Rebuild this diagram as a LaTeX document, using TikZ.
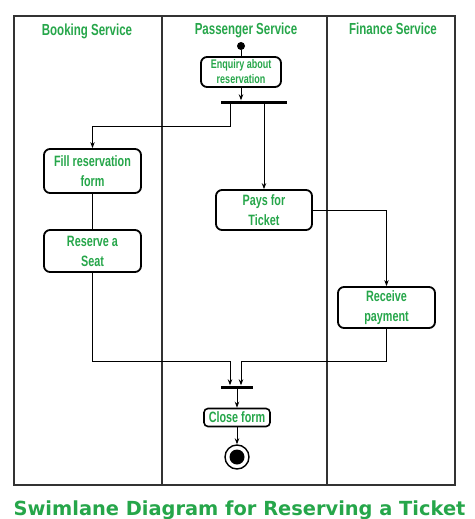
\documentclass[tikz,border=0pt]{standalone}
\usepackage{fontspec}
\usetikzlibrary{positioning,arrows.meta,shapes}
\newfontfamily\lanefont{Liberation Sans}[FakeStretch=0.72]
\newfontfamily\titlefont{DejaVu Sans}
\definecolor{lanegreen}{RGB}{38,166,74}
\tikzstyle{flow} = [line width=0.9pt,-{Stealth[length=6pt,width=4.5pt]}]
\tikzstyle{activity} = [draw, line width=1.8pt, rounded corners=6pt, inner sep=0pt, align=center, text=lanegreen, font=\lanefont\bfseries\fontsize{15}{20}\selectfont]
\tikzstyle{bar} = [fill=black, inner sep=0pt, minimum height=3pt]

\begin{document}
\begin{tikzpicture}[x=1pt,y=-1pt]
\useasboundingbox (0,0) rectangle (474,519);
\tikzstyle{heading} = [anchor=base, text=lanegreen, font=\lanefont\bfseries\fontsize{16}{19}\selectfont]

% lanes
\draw[line width=1.3pt, black!80] (14,16) rectangle (455,485);
\draw[line width=1.3pt, black!80] (162,16) -- (162,485);
\draw[line width=1.3pt, black!80] (327,16) -- (327,485);

\node[heading] (booking) at (87,36) {Booking Service};
\node[heading] (passenger) at (246,35) {Passenger Service};
\node[heading] (finance) at (393,35) {Finance Service};

% activities
\node[circle, fill=black, inner sep=0pt, minimum size=8pt] (start) at (241,46) {};
\node[activity, minimum width=80pt, minimum height=30pt, font=\lanefont\bfseries\fontsize{12.5}{15}\selectfont] (enquiry) at (241,72) {Enquiry about\\reservation};
\node[bar, minimum width=66pt] (fork) at (254,102) {};
\node[activity, minimum width=97pt, minimum height=44pt] (fill) at (92.5,171) {Fill reservation\\form};
\node[activity, minimum width=97pt, minimum height=42pt] (reserve) at (92.5,251) {Reserve a\\Seat};
\node[activity, minimum width=96pt, minimum height=40pt] (pays) at (264,210) {Pays for\\Ticket};
\node[activity, minimum width=97pt, minimum height=41pt] (receive) at (386.5,307.5) {Receive\\payment};
\node[bar, minimum width=32pt] (join) at (237,387) {};
\node[activity, minimum width=66pt, minimum height=18pt, line width=1.6pt, rounded corners=4pt] (close) at (237,417.5) {Close form};
\node[circle, draw, line width=1.4pt, minimum size=24pt, inner sep=0pt] (end) at (237,457) {};
\fill (end) circle (7.5);

% connectors
\draw[line width=0.9pt] (start) -- (enquiry);
\draw[flow] (enquiry) -- (enquiry |- fork.north);
\draw[flow] ([xshift=-24pt]fork.south) |- ([yshift=22pt]fill.north) -- (fill.north);
\draw[flow] (fork.south -| pays.north) -- (pays.north);
\draw[line width=0.9pt] (fill) -- (reserve);
\draw[flow] (pays.east) -| (receive.north);
\draw[flow] (reserve.south) |- ([xshift=-7pt,yshift=24pt]join.north) -- ([xshift=-7pt]join.north);
\draw[flow] (receive.south) |- ([xshift=4pt,yshift=24pt]join.north) -- ([xshift=4pt]join.north);
\draw[flow] (join) -- (close);
\draw[flow] (close) -- (end);

\node[anchor=base, text=lanegreen, font=\titlefont\bfseries\fontsize{19.4}{23}\selectfont] (title) at (239.5,515) {Swimlane Diagram for Reserving a Ticket};
\end{tikzpicture}
\end{document}
